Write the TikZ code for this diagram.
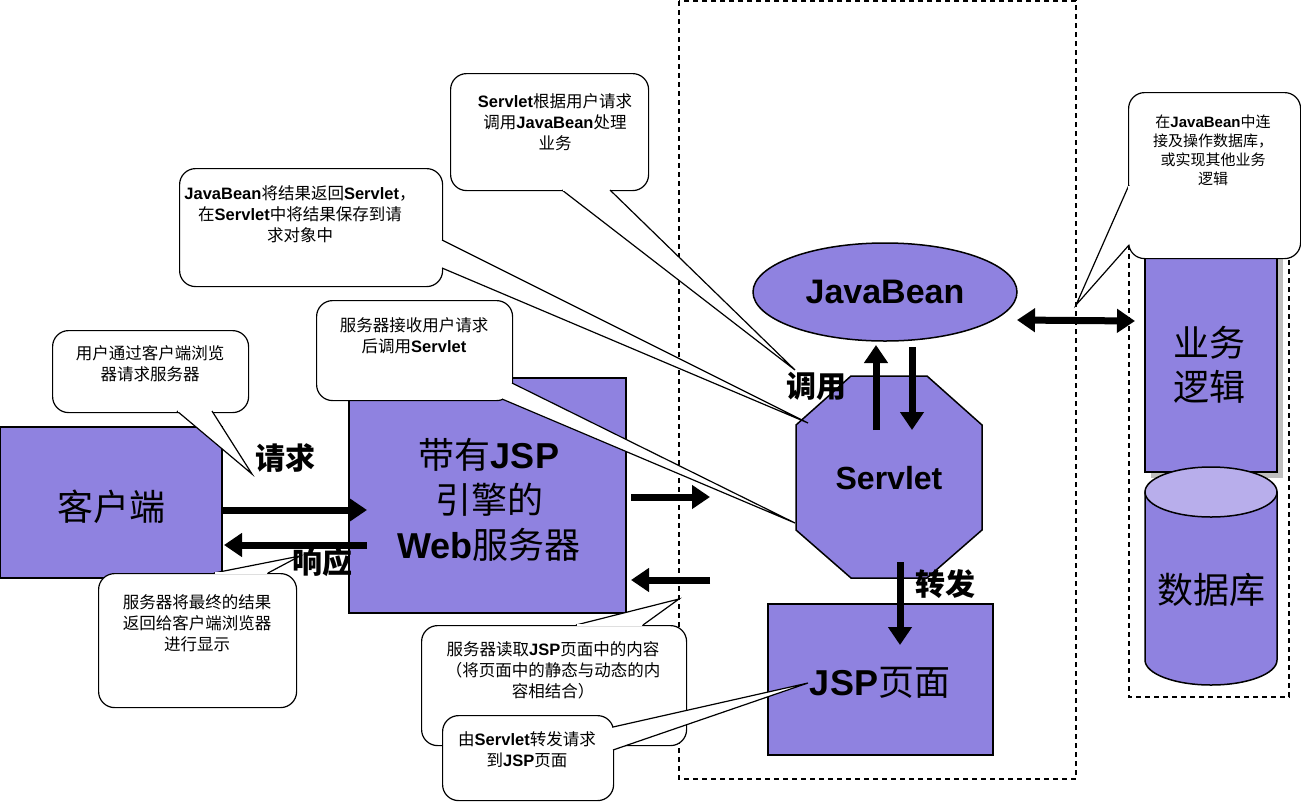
\documentclass[tikz,border=0pt]{standalone}
\usepackage{fontspec}
\setmainfont{Noto Sans CJK SC}
\newfontfamily\lat{Liberation Sans}
\newcommand\LB[1]{{\lat\bfseries #1}}
\usetikzlibrary{arrows.meta,shapes.geometric}
\definecolor{fillp}{RGB}{143,130,224}
\definecolor{filll}{RGB}{184,174,235}
\begin{document}
\begin{tikzpicture}[x=1pt,y=-1pt,
  shp/.style={draw=black,line width=1.5pt,fill=fillp},
  big/.style={font=\fontsize{36}{42}\selectfont},
  cb/.style={draw=black,line width=1.2pt,fill=white,rounded corners=16pt,inner sep=0pt,align=center,anchor=north west},
  ct/.style={font=\fontsize{16.5}{21}\selectfont,align=center},
  thick arrow/.style={line width=7pt,-{Triangle[width=23pt,length=18pt]}},
  lbl/.style={font=\fontsize{30}{34}\selectfont\bfseries},
  dbox/.style={draw=black,line width=1.2pt,dash pattern=on 5pt off 4pt}]
\useasboundingbox (0,0) rectangle (1301,801);
% dashed regions
\draw[dbox] (679,1) rectangle (1076,779);
\draw[dbox] (1129,245) rectangle (1289,697);
% main shapes
\draw[shp] (0,427) rectangle (222,578);
\node[big] (client) at (111,507) {客户端};
\draw[shp] (349,378) rectangle (626,613);
\node[align=center,font=\fontsize{36}{45}\selectfont] (web) at (489,500) {带有\LB{JSP}\\引擎的\\\LB{Web}服务器};
\node[shp,ellipse,minimum width=264pt,minimum height=98pt,inner sep=0pt,font=\fontsize{34}{38}\selectfont\lat\bfseries] (bean) at (885,292) {JavaBean};
\draw[shp] (851,376) -- (927,376) -- (982,425) -- (982,530) -- (927,578) -- (851,578) -- (796,530) -- (796,425) -- cycle;
\node[font=\fontsize{32}{36}\selectfont\lat\bfseries] (srv) at (889,478) {Servlet};
\draw[draw=none,fill=black!25] (1151,254) rectangle (1283,478);
\draw[shp] (1145,248) rectangle (1277,472);
\node[align=center,font=\fontsize{36}{44}\selectfont] (biz) at (1209,365) {业务\\逻辑};
\draw[shp] (1145,492) -- (1145,660) arc[start angle=180,end angle=360,x radius=66,y radius=-25] -- (1277,492) -- cycle;
\draw[shp,fill=filll] (1211,492) ellipse[x radius=66,y radius=25];
\node[big] (db) at (1211,590) {数据库};
\draw[shp] (768,604) rectangle (993,755);
\node[big] (jsp) at (880,683) {\LB{JSP}页面};
% arrows
\coordinate (a1) at (222,510); \coordinate (a2) at (367,510);
\coordinate (b1) at (367,545); \coordinate (b2) at (224,545);
\coordinate (c1) at (631,497); \coordinate (c2) at (710,497);
\coordinate (d1) at (710,580); \coordinate (d2) at (631,580);
\coordinate (e1) at (876,430); \coordinate (e2) at (876,345);
\coordinate (f1) at (912,347); \coordinate (f2) at (912,430);
\coordinate (g1) at (900,562); \coordinate (g2) at (900,645);
\coordinate (h1) at (1017,320); \coordinate (h2) at (1135,321);
\draw[thick arrow] (a1) -- (a2);
\draw[thick arrow] (b1) -- (b2);
\draw[thick arrow] (c1) -- (c2);
\draw[thick arrow] (d1) -- (d2);
\draw[thick arrow] (e1) -- (e2);
\draw[thick arrow] (f1) -- (f2);
\draw[thick arrow] (g1) -- (g2);
\draw[line width=7pt,{Triangle[width=23pt,length=18pt]}-{Triangle[width=23pt,length=18pt]}] (h1) -- (h2);
% callouts
\newcommand\tail[3]{\filldraw[fill=white,line width=1.2pt] (#1) -- (#3) -- (#2); \draw[white,line width=2pt,shorten <=1.2pt,shorten >=1.2pt] (#1) -- (#2);}
% 1
\node[cb,minimum width=196pt,minimum height=82pt] (k1) at (52,330) {};
\node[ct] at (150,364) {用户通过客户端浏览\\器请求服务器};
\tail{177,411}{212,411}{252,474}
% 2
\node[cb,minimum width=196pt,minimum height=100pt] (k2) at (316,300) {};
\node[ct] at (414,336) {服务器接收用户请求\\后调用\LB{Servlet}};
\tail{512,383}{502,399}{795,523}
% 3
\node[cb,minimum width=263pt,minimum height=118pt] (k3) at (179,168) {};
\node[ct] at (300,214) {\LB{JavaBean}将结果返回\LB{Servlet}，\\在\LB{Servlet}中将结果保存到请\\求对象中};
\tail{442,240}{442,268}{808,423}
% 4
\node[cb,minimum width=198pt,minimum height=117pt] (k4) at (450,73) {};
\node[ct] at (555,122) {\LB{Servlet}根据用户请求\\调用\LB{JavaBean}处理\\业务};
\tail{562,190}{610,190}{795,370}
% 5
\node[cb,minimum width=198pt,minimum height=134pt] (k5) at (98,573) {};
\node[ct] at (197,623) {服务器将最终的结果\\返回给客户端浏览器\\进行显示};
\tail{214,573}{268,573}{300,556}
% 6
\node[cb,minimum width=265pt,minimum height=120pt] (k6) at (421,625) {};
\node[ct] at (553,670) {服务器读取\LB{JSP}页面中的内容\\（将页面中的静态与动态的内\\容相结合）};
\tail{576,625}{643,625}{679,599}
% 7
\node[cb,minimum width=171pt,minimum height=85pt] (k7) at (442,715) {};
\node[ct] at (527,750) {由\LB{Servlet}转发请求\\到\LB{JSP}页面};
\tail{613,727}{613,750}{808,683}
% 8
\node[cb,minimum width=172pt,minimum height=166pt] (k8) at (1128,92) {};
\node[ct,font=\fontsize{15}{19}\selectfont] at (1213,150) {在\LB{JavaBean}中连\\接及操作数据库，\\或实现其他业务\\逻辑};
\tail{1129,185}{1129,245}{1076,305}
% labels
\node[lbl] (l1) at (285,458) {请求};
\node[lbl] (l2) at (322,562) {响应};
\node[lbl] (l3) at (816,386) {调用};
\node[lbl] (l4) at (945,584) {转发};
\end{tikzpicture}
\end{document}
